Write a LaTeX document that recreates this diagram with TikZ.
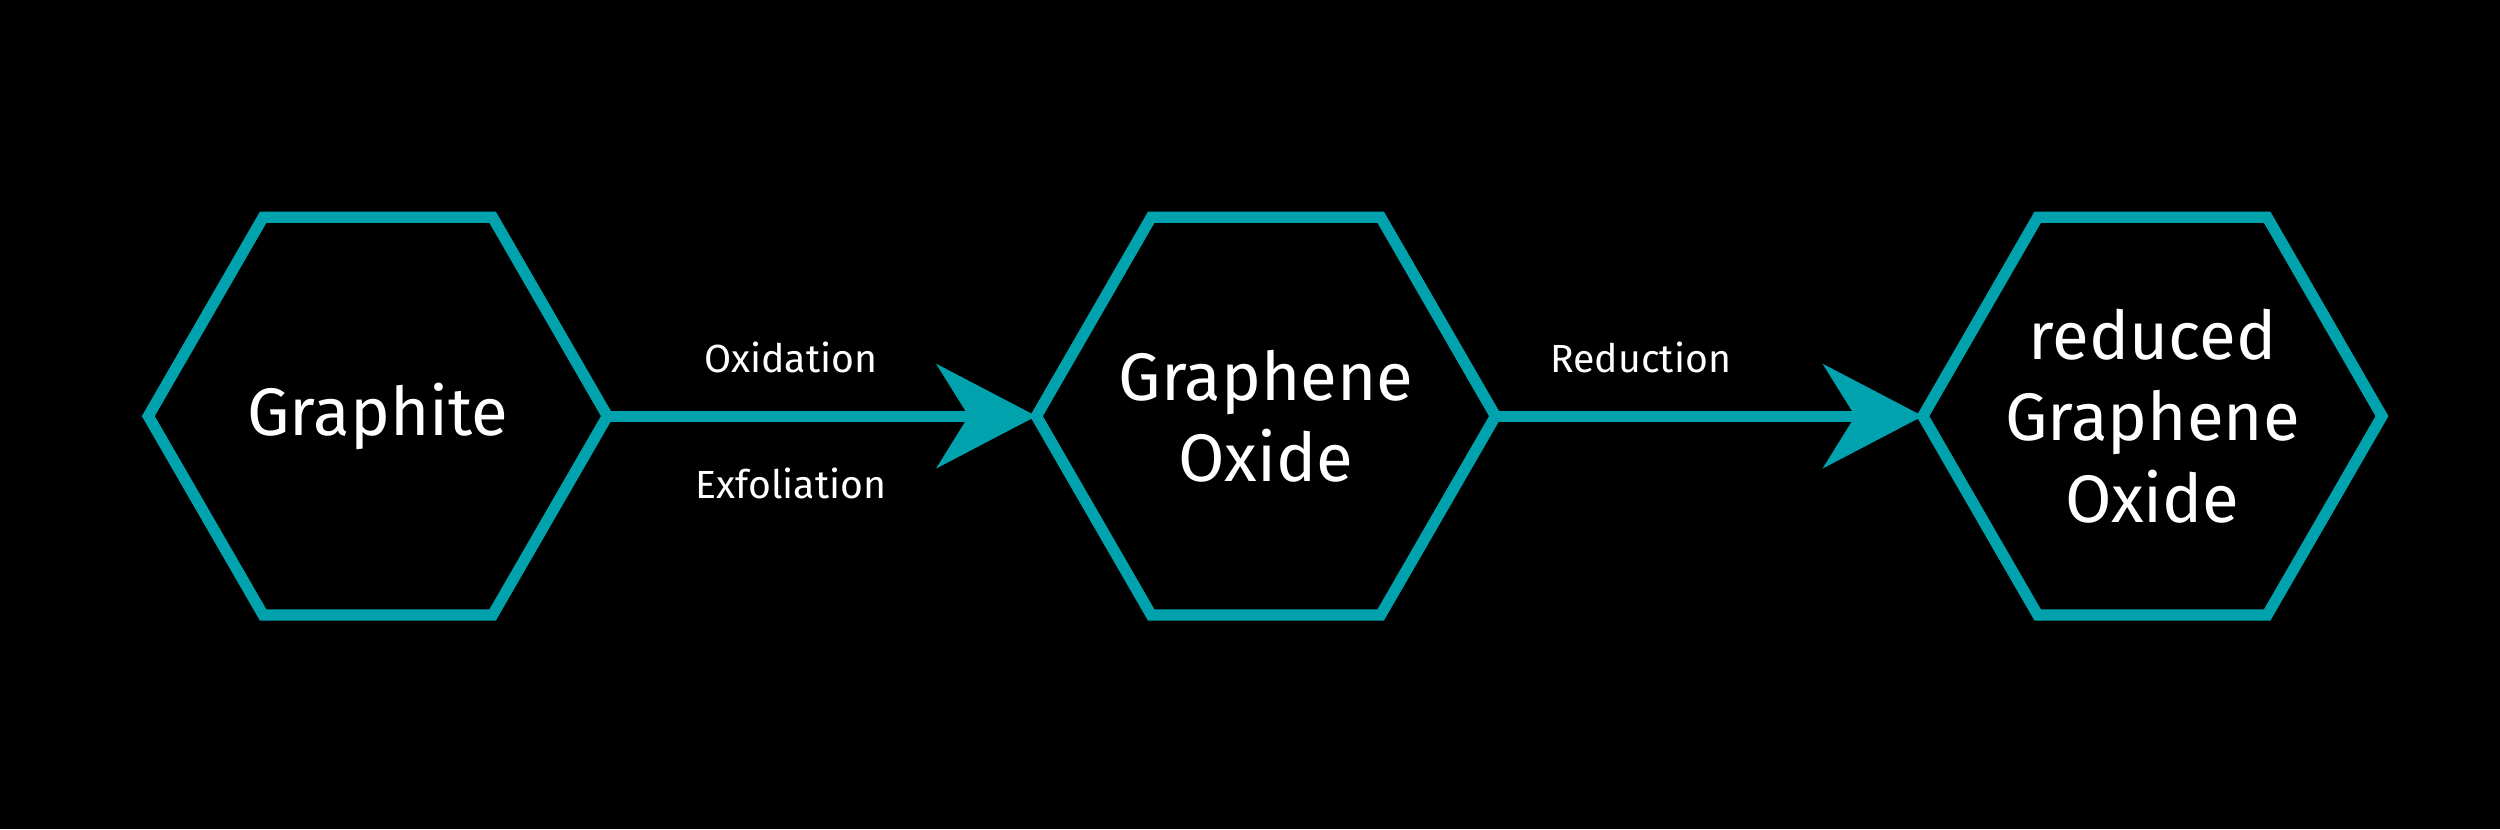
\documentclass[tikz,border=0pt]{standalone}
\usepackage{fontspec}
\setmainfont{Fira Sans}
\usetikzlibrary{shapes.geometric,arrows.meta}
\definecolor{teal1}{HTML}{00A3AD}
\begin{document}
\begin{tikzpicture}[x=0.02cm,y=0.02cm,
  hexa/.style={regular polygon,regular polygon sides=6,minimum size=5.76cm,draw=teal1,line width=4pt,outer sep=0pt,inner sep=0pt},
  big/.style={text=white,font=\fontsize{24}{29}\selectfont,align=center},
  small/.style={text=white,font=\fontsize{14}{17}\selectfont},
  conn/.style={draw=teal1,line width=4pt,-{Stealth[length=1.25cm,width=1.3cm,inset=0.4cm]}}]
\fill[black] (0,0) rectangle (1568,520);
\useasboundingbox (0,0) rectangle (1568,520);
\node[hexa] (h1) at (237,259) {};
\node[hexa] (h2) at (794,259) {};
\node[hexa] (h3) at (1350,259) {};
\node[big] (t1) at (h1) {Graphite};
\node[big] (t2) at (h2) {Graphene\\Oxide};
\node[big] (t3) at (h3) {reduced\\Graphene\\Oxide};
\draw[conn] (h1.east) -- (h2.west);
\draw[conn] (h2.east) -- (h3.west);
\node[small] (l1) at (496,296) {Oxidation};
\node[small] (l2) at (496,217) {Exfoliation};
\node[small] (l3) at (1029,296) {Reduction};
\end{tikzpicture}
\end{document}
